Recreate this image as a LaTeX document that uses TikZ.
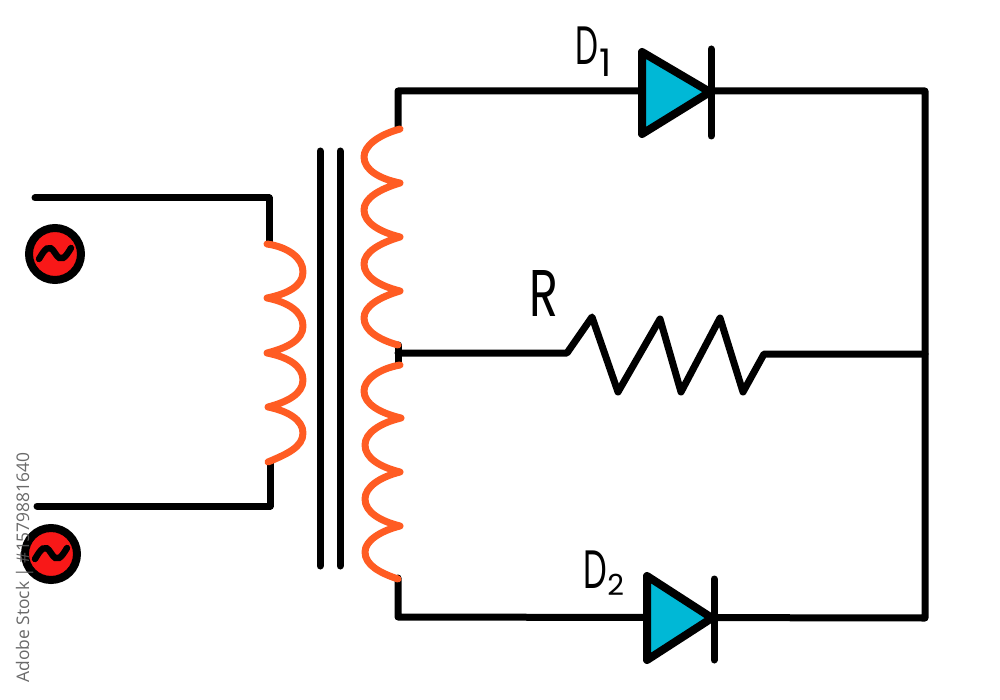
\documentclass[tikz,border=0pt]{standalone}
\usepackage{fontspec}
\setmainfont{Poppins}
\newfontfamily\stockfont{Open Sans}
\definecolor{coilc}{HTML}{FF5C23}
\definecolor{diodec}{HTML}{00B8D6}
\definecolor{srcc}{HTML}{F81818}
\definecolor{stampc}{HTML}{5A5A5A}
\tikzset{
  wire/.style={line width=3.5pt,line cap=round,line join=round,draw=black},
  coil/.style={line width=3.5pt,line cap=round,line join=round,draw=coilc},
  diode/.style={line width=4pt,line join=round,draw=black,fill=diodec},
  source/.style={circle,draw=black,fill=srcc,line width=4pt,minimum size=26pt,inner sep=0pt},
  tilde/.style={line width=3.2pt,line cap=round,draw=black},
  lab/.style={inner sep=0pt,text=black},
}
\begin{document}
\begin{tikzpicture}[x=0.5pt,y=-0.5pt]
\useasboundingbox (0,0) rectangle (1000,700);
\fill[white] (0,0) rectangle (1000,700);
% named points
\coordinate (pa) at (35,198);
\coordinate (pb) at (269,198);
\coordinate (pc) at (269,243);
\coordinate (qa) at (37,506);
\coordinate (qb) at (270,506);
\coordinate (qc) at (270,462);
\coordinate (sa) at (398,128);
\coordinate (sb) at (398,91);
\coordinate (sc) at (925,91);
\coordinate (sd) at (925,618);
\coordinate (se) at (398,617);
\coordinate (sf) at (398,578);
\coordinate (ta) at (398,345);
\coordinate (tb) at (398,365);
\coordinate (tc) at (398,353);
\coordinate (rr) at (925,354);
% primary wires
\draw[wire] (pa) -- (pb) -- (pc);
\draw[wire] (qa) -- (qb) -- (qc);
% core
\coordinate (c1a) at (320,151); \coordinate (c1b) at (320,566);
\coordinate (c2a) at (340,151); \coordinate (c2b) at (340,566);
\draw[wire] (c1a) -- (c1b);
\draw[wire] (c2a) -- (c2b);
% secondary wires
\draw[wire] (sa) -- (sb) -- (sc) -- (sd) -- (se) -- (sf);
\draw[wire] (ta) -- (tb);
% resistor
\draw[wire] (tc) -- (567,353) -- (592,317) -- (618,392) -- (660,319) -- (681,392) -- (720,318) -- (743,392) -- (764,354) -- (rr);
% primary coil
\draw[coil] (267,244) .. controls (288,247) and (303,258) .. (303,272)
  .. controls (303,286) and (287,294) .. (267,298)
  .. controls (288,302) and (303,312) .. (303,326)
  .. controls (303,340) and (287,348) .. (267,353)
  .. controls (288,357) and (303,366) .. (303,380)
  .. controls (303,394) and (287,402) .. (268,407)
  .. controls (288,411) and (303,420) .. (303,433)
  .. controls (303,447) and (287,454) .. (268,462);
% secondary coil upper
\draw[coil] (400,129) .. controls (378,135) and (364,146) .. (364,157)
  .. controls (364,170) and (380,179) .. (400,183)
  .. controls (380,189) and (364,198) .. (364,210)
  .. controls (364,223) and (380,232) .. (400,237)
  .. controls (380,243) and (364,252) .. (364,264)
  .. controls (364,277) and (380,286) .. (400,291)
  .. controls (380,297) and (364,306) .. (364,318)
  .. controls (364,331) and (380,340) .. (398,345);
% secondary coil lower
\draw[coil] (400,365) .. controls (378,369) and (364,380) .. (364,391)
  .. controls (364,404) and (380,413) .. (401,418)
  .. controls (380,423) and (365,433) .. (365,445)
  .. controls (365,458) and (380,467) .. (400,472)
  .. controls (380,477) and (365,487) .. (365,499)
  .. controls (365,512) and (380,521) .. (400,526)
  .. controls (380,531) and (365,541) .. (365,552)
  .. controls (365,565) and (380,573) .. (398,579);
% diode D1
\draw[diode] (642,52) -- (642,134) -- (710,92) -- cycle;
\coordinate (b1a) at (711,49); \coordinate (b1b) at (711,136);
\draw[wire] (b1a) -- (b1b);
% diode D2
\draw[diode] (647,576) -- (647,660) -- (712,618) -- cycle;
\coordinate (b2a) at (714,579); \coordinate (b2b) at (714,660);
\draw[wire] (b2a) -- (b2b);
% sources
\node[source] (s1) at (55,254) {};
\node[source] (s2) at (51,554) {};
\draw[tilde] ([shift={(-16,5)}]s1.center) .. controls +(6,-10) and +(-6,-10) .. ([shift={(0,-1)}]s1.center) .. controls +(6,10) and +(-6,10) .. ([shift={(16,-6)}]s1.center);
\draw[tilde] ([shift={(-16,5)}]s2.center) .. controls +(6,-10) and +(-6,-10) .. ([shift={(0,-1)}]s2.center) .. controls +(6,10) and +(-6,10) .. ([shift={(16,-6)}]s2.center);
% labels
\node[lab,anchor=base west,xscale=0.6] (d1) at (575,65) {\fontsize{27}{27}\selectfont D};
\node[lab,anchor=base west] (d1s) at (599,77) {\fontsize{19}{19}\selectfont 1};
\node[lab,anchor=base west,xscale=0.62] (d2) at (583,588) {\fontsize{27}{27}\selectfont D};
\node[lab,anchor=base west] (d2s) at (607,595) {\fontsize{14.5}{14.5}\selectfont 2};
\node[lab,anchor=base west,xscale=0.72] (r) at (529,316) {\fontsize{33}{33}\selectfont R};
\node[lab,anchor=base west,rotate=90,text=stampc,text opacity=0.9] (stamp) at (29,683) {\stockfont\fontsize{8.7}{8.7}\selectfont Adobe Stock | \#1579881640};
\end{tikzpicture}
\end{document}
